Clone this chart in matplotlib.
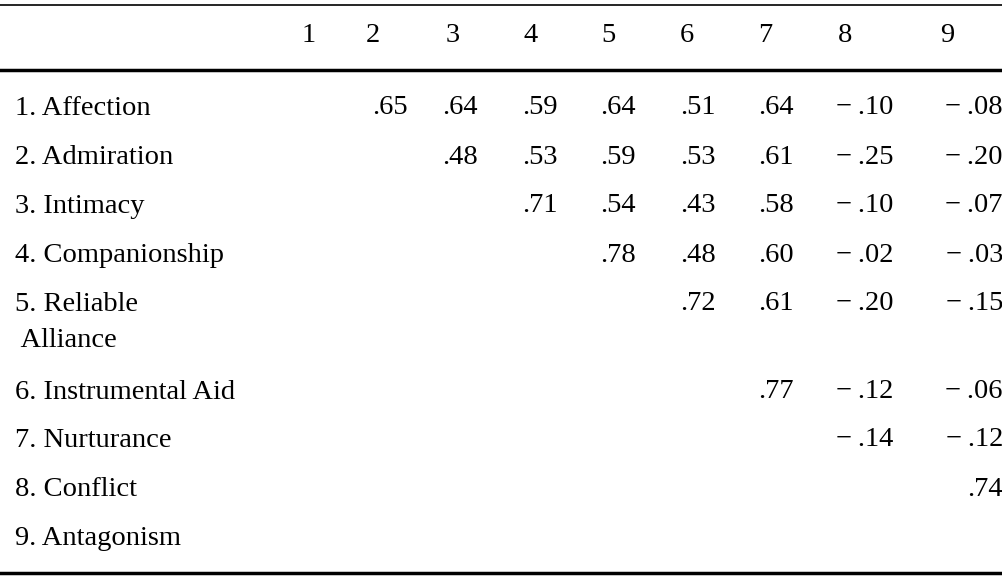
import matplotlib.pyplot as plt

row_labels = ["1. Affection", "2. Admiration", "3. Intimacy", "4. Companionship",
              "5. Reliable\n Alliance", "6. Instrumental Aid", "7. Nurturance",
              "8. Conflict", "9. Antagonism"]
col_labels = ["1", "2", "3", "4", "5", "6", "7", "8", "9"]
# upper triangle values, row i holds columns i+2 .. 9
values = [
    [".65", ".64", ".59", ".64", ".51", ".64", "\u2212.10", "\u2212.08"],
    [".48", ".53", ".59", ".53", ".61", "\u2212.25", "\u2212.20"],
    [".71", ".54", ".43", ".58", "\u2212.10", "\u2212.07"],
    [".78", ".48", ".60", "\u2212.02", "\u2212.03"],
    [".72", ".61", "\u2212.20", "\u2212.15"],
    [".77", "\u2212.12", "\u2212.06"],
    ["\u2212.14", "\u2212.12"],
    [".74"],
    [],
]

plt.rcParams['font.family'] = ['Liberation Serif', 'DejaVu Serif']
fig = plt.figure(figsize=(10.03, 5.83), dpi=100)
ax = fig.add_axes([0, 0, 1, 1])
ax.set_xlim(0, 1003)
ax.set_ylim(583, 0)
ax.axis('off')

fs = 20.5
head_x = [302, 366, 446, 524, 601, 680, 758, 838, 940]
val_x = [None, 372, 442, 522, 600, 680, 758, 836, 1003]
row_y = [108, 157, 206, 255, 304, 392, 440, 489, 538]

ax.plot([0, 1003], [5, 5], color='black', lw=1.2)
ax.plot([0, 1003], [70, 70], color='black', lw=2.5)
ax.plot([0, 1003], [573, 573], color='black', lw=2.5)

for x, c in zip(head_x, col_labels):
    ax.text(x, 35, c, fontsize=fs, ha='left', va='center')

for i, (lab, y) in enumerate(zip(row_labels, row_y)):
    ax.text(15, y - 12, lab, fontsize=fs, ha='left', va='top', linespacing=1.6)
    for k, v in enumerate(values[i]):
        j = i + 1 + k
        ha = 'right' if j == 8 else 'left'
        v = v.replace("\u2212", "\u2212\u2009")
        ax.text(val_x[j], y, v, fontsize=fs, ha=ha, va='center')

fig.savefig("out.png", dpi=100)
